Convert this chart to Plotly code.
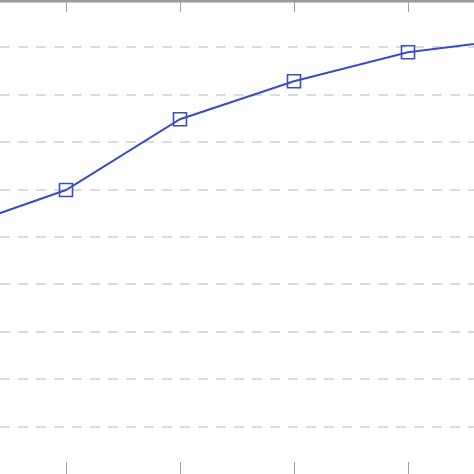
import plotly.graph_objects as go

# data (the visible window is a crop of a larger chart)
x_vals = [0, 1, 2, 3, 4, 5]
y_vals = [41.5, 49.9, 64.8, 72.8, 78.9, 81.9]
tick_x = [1, 2, 3, 4]
grid_y = [0, 10, 20, 30, 40, 50, 60, 70, 80]

fig = go.Figure()

fig.add_trace(
    go.Scatter(
        x=x_vals,
        y=y_vals,
        mode="lines+markers",
        line=dict(color="#3a4cc6", width=2),
        marker=dict(symbol="square-open", size=13, color="#3a4cc6",
                    line=dict(width=1.6, color="#3a4cc6")),
        showlegend=False,
    )
)
# dummy trace on top axis so it is drawn
fig.add_trace(go.Scatter(x=[None], y=[None], xaxis="x2", showlegend=False))

xr = [1 - 66 / 114, 1 + 408 / 114]

# frame line along the top edge
fig.add_shape(type="rect", xref="paper", yref="paper",
              x0=0, x1=1, y0=1 - 2.5 / 474, y1=1,
              fillcolor="#9a9a9a", line=dict(width=0), layer="above")

fig.update_layout(
    width=474,
    height=474,
    margin=dict(l=0, r=0, t=0, b=0),
    paper_bgcolor="white",
    plot_bgcolor="white",
    xaxis=dict(
        range=xr,
        tickvals=tick_x,
        ticks="inside",
        ticklen=12,
        tickwidth=1.2,
        tickcolor="#a0a0a0",
        showticklabels=False,
        showgrid=False,
        zeroline=False,
        showline=False,
    ),
    xaxis2=dict(
        range=xr,
        overlaying="x",
        side="top",
        tickvals=tick_x,
        ticks="inside",
        ticklen=12,
        tickwidth=1.2,
        tickcolor="#a0a0a0",
        showticklabels=False,
        showgrid=False,
        zeroline=False,
        showline=False,
    ),
    yaxis=dict(
        range=[-9.9, 89.9],
        tickvals=grid_y,
        showticklabels=False,
        ticks="",
        showgrid=True,
        gridcolor="#dcdcdc",
        gridwidth=2,
        griddash="10px,8px",
        zeroline=False,
        showline=False,
    ),
)

fig.write_html("out.html", config={"displayModeBar": False},
               post_script="document.body.style.margin='0';")
